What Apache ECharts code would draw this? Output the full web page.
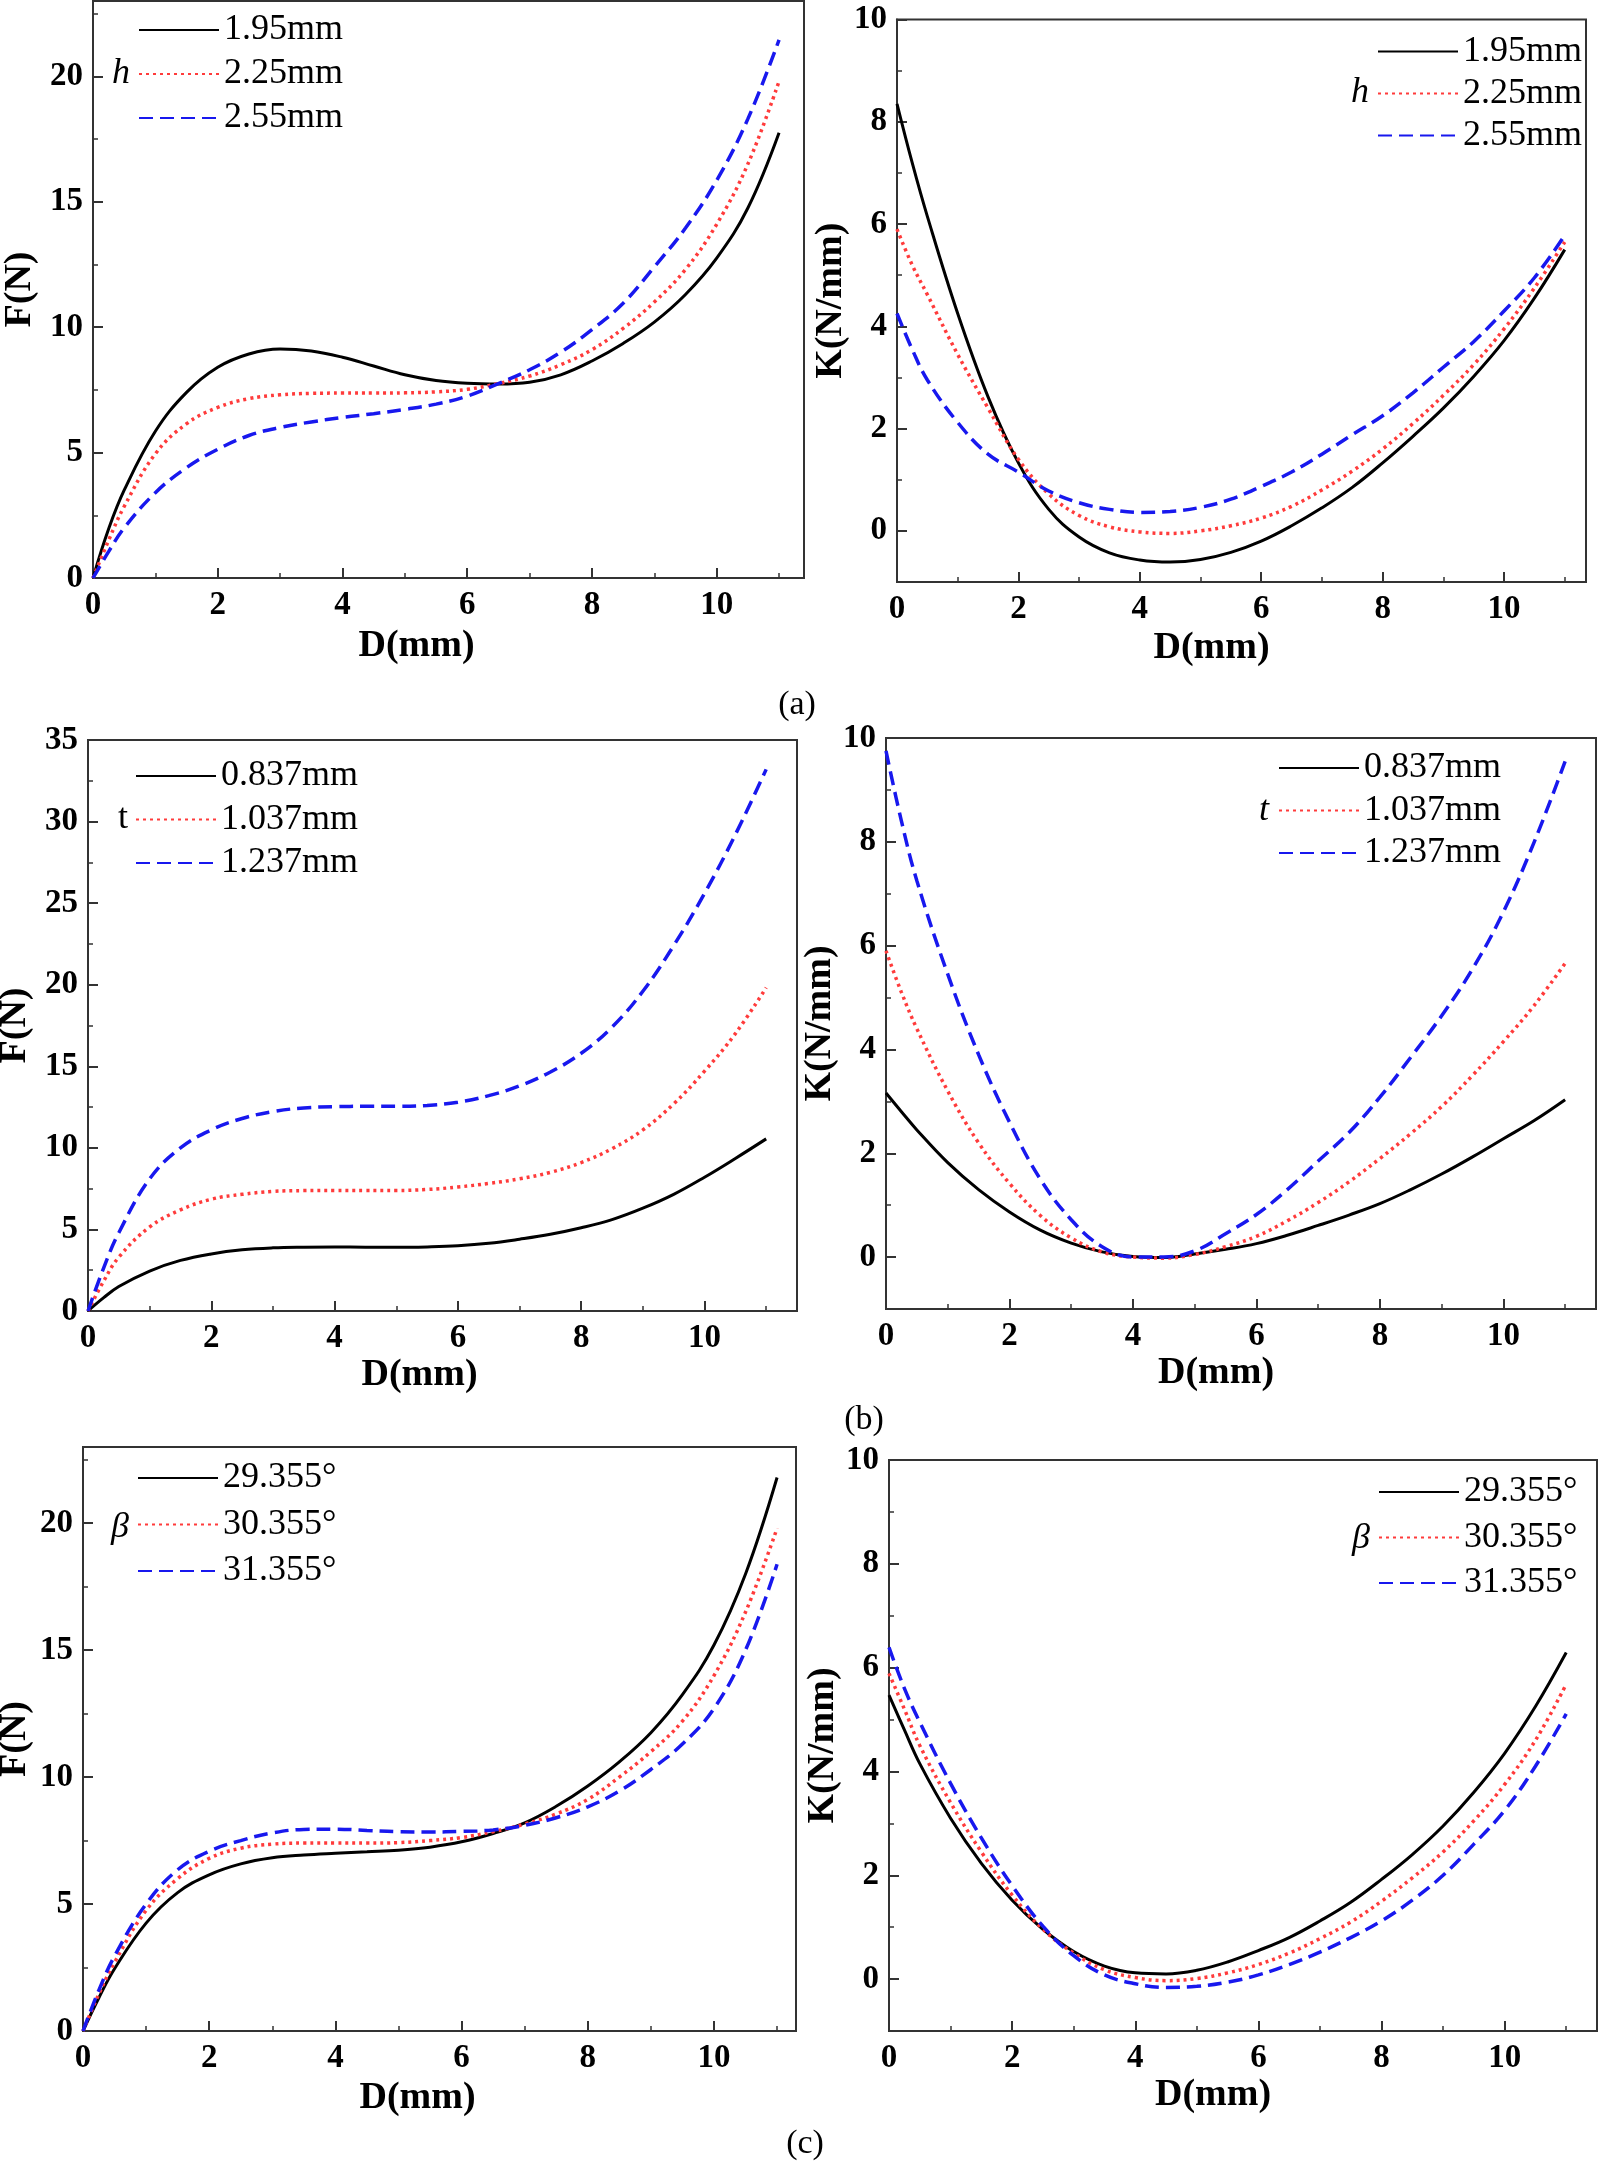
<!DOCTYPE html>
<html>
<head>
<meta charset="utf-8">
<script src="https://cdn.jsdelivr.net/npm/echarts@6/dist/echarts.min.js"></script>
<style>
html,body{margin:0;padding:0;background:#fff;}
#chart{width:1600px;height:2163px;}
</style>
</head>
<body>
<div id="chart"></div>
<script>
// ---------- DATA ----------
const D_MM = [0, 0.25, 0.5, 1, 1.5, 2, 2.5, 3, 3.5, 4, 4.5, 5, 5.5, 6, 6.5, 7, 7.5, 8, 8.5, 9, 9.5, 10, 10.5, 11];

const H_NAMES = ['1.95mm', '2.25mm', '2.55mm'];
const T_NAMES = ['0.837mm', '1.037mm', '1.237mm'];
const B_NAMES = ['29.355°', '30.355°', '31.355°'];

// (a) force, parameter h
const F_h195 = [0, 1.95, 3.5, 5.85, 7.4, 8.4, 8.93, 9.13, 9.05, 8.8, 8.45, 8.1, 7.87, 7.76, 7.73, 7.8, 8.1, 8.65, 9.35, 10.2, 11.3, 12.75, 14.75, 17.75];
const F_h225 = [0, 1.5, 2.85, 4.95, 6.15, 6.8, 7.15, 7.3, 7.36, 7.37, 7.37, 7.38, 7.42, 7.52, 7.75, 8.05, 8.5, 9.1, 9.95, 11.0, 12.3, 14.1, 16.5, 19.8];
const F_h255 = [0, 1.05, 2.0, 3.4, 4.4, 5.13, 5.68, 6.0, 6.22, 6.4, 6.55, 6.72, 6.93, 7.25, 7.75, 8.3, 9.0, 9.9, 10.95, 12.4, 13.95, 15.85, 18.3, 21.45];
// (a) stiffness, parameter h
const K_h195 = [8.35, 7.2, 6.15, 4.25, 2.62, 1.33, 0.42, -0.12, -0.43, -0.57, -0.61, -0.56, -0.42, -0.2, 0.1, 0.45, 0.85, 1.33, 1.85, 2.4, 3.02, 3.72, 4.55, 5.5];
const K_h225 = [5.9, 5.2, 4.62, 3.45, 2.4, 1.4, 0.72, 0.3, 0.08, -0.02, -0.05, 0.0, 0.1, 0.25, 0.48, 0.8, 1.17, 1.6, 2.1, 2.65, 3.25, 3.95, 4.75, 5.65];
const K_h255 = [4.25, 3.55, 2.95, 2.12, 1.5, 1.15, 0.78, 0.55, 0.42, 0.36, 0.38, 0.46, 0.62, 0.87, 1.15, 1.5, 1.88, 2.25, 2.7, 3.2, 3.7, 4.3, 4.95, 5.78];
// (b) force, parameter t
const F_t0837 = [0, 0.8, 1.5, 2.45, 3.1, 3.5, 3.75, 3.87, 3.91, 3.92, 3.91, 3.9, 3.93, 4.0, 4.15, 4.4, 4.7, 5.1, 5.6, 6.3, 7.15, 8.2, 9.35, 10.55];
const F_t1037 = [0, 1.8, 3.3, 5.15, 6.2, 6.85, 7.15, 7.33, 7.38, 7.39, 7.39, 7.39, 7.45, 7.6, 7.82, 8.1, 8.5, 9.1, 9.95, 11.1, 12.7, 14.7, 17.0, 19.82];
const F_t1237 = [0, 2.6, 4.8, 8.1, 10.0, 11.1, 11.8, 12.22, 12.45, 12.52, 12.55, 12.55, 12.6, 12.8, 13.2, 13.8, 14.65, 15.8, 17.4, 19.6, 22.4, 25.6, 29.2, 33.2];
// (b) stiffness, parameter t
const K_t0837 = [3.16, 2.8, 2.45, 1.82, 1.3, 0.87, 0.52, 0.27, 0.1, 0.01, -0.01, 0.06, 0.15, 0.26, 0.42, 0.61, 0.81, 1.03, 1.3, 1.6, 1.93, 2.28, 2.63, 3.03];
const K_t1037 = [5.9, 5.1, 4.4, 3.2, 2.2, 1.42, 0.8, 0.37, 0.1, 0.0, -0.02, 0.05, 0.2, 0.4, 0.7, 1.05, 1.45, 1.9, 2.38, 2.9, 3.5, 4.15, 4.85, 5.66];
const K_t1237 = [9.75, 8.4, 7.25, 5.45, 3.9, 2.6, 1.5, 0.72, 0.2, 0.0, 0.0, 0.12, 0.45, 0.82, 1.3, 1.85, 2.4, 3.08, 3.85, 4.65, 5.55, 6.65, 8.0, 9.55];
// (c) force, parameter beta
const F_b29 = [0, 1.3, 2.45, 4.25, 5.45, 6.15, 6.58, 6.82, 6.93, 7.0, 7.06, 7.12, 7.24, 7.45, 7.78, 8.2, 8.85, 9.65, 10.6, 11.75, 13.25, 15.2, 18.0, 21.8];
const F_b30 = [0, 1.45, 2.7, 4.75, 6.0, 6.8, 7.2, 7.36, 7.4, 7.4, 7.4, 7.42, 7.5, 7.62, 7.85, 8.15, 8.55, 9.12, 10.0, 11.0, 12.2, 14.0, 16.5, 19.8];
const F_b31 = [0, 1.6, 2.95, 5.0, 6.35, 7.08, 7.5, 7.8, 7.94, 7.95, 7.9, 7.85, 7.84, 7.86, 7.92, 8.1, 8.4, 8.83, 9.45, 10.3, 11.3, 12.7, 15.0, 18.38];
// (c) stiffness, parameter beta
const K_b29 = [5.47, 4.8, 4.15, 3.1, 2.23, 1.52, 0.96, 0.53, 0.25, 0.12, 0.1, 0.17, 0.33, 0.55, 0.8, 1.12, 1.48, 1.92, 2.4, 2.95, 3.6, 4.35, 5.25, 6.29];
const K_b30 = [5.89, 5.2, 4.5, 3.4, 2.45, 1.62, 0.96, 0.5, 0.18, 0.03, -0.03, 0.01, 0.12, 0.28, 0.5, 0.78, 1.1, 1.5, 1.95, 2.45, 3.05, 3.75, 4.6, 5.68];
const K_b31 = [6.39, 5.6, 4.95, 3.77, 2.72, 1.8, 1.02, 0.45, 0.08, -0.09, -0.16, -0.14, -0.06, 0.08, 0.28, 0.52, 0.8, 1.12, 1.52, 2.0, 2.6, 3.25, 4.1, 5.11];

// ---------- LAYOUT / STYLE ----------
const SERIF = '"Liberation Serif", "Times New Roman", serif';
const AXIS_COLOR = '#333';
const LINE_STYLES = [
  { color: '#000000', type: 'solid', width: 3 },
  { color: '#ff3b3b', type: [3, 4], width: 3.5 },
  { color: '#1818ee', type: [14, 7], width: 3.5 }
];
const TICK_FONT = 33, NAME_FONT = 38, LEGEND_FONT = 36;

const PANELS = [
  { grid: { left: 93, top: 1, width: 711, height: 577 }, xMax: 11.4, y: { min: 0, max: 23, interval: 5 },
    yName: 'F(N)', yNameGap: 54, xNameGap: 49, xShift: 32, names: H_NAMES, data: [F_h195, F_h225, F_h255],
    legend: { left: 138, top: 12, gap: 8 }, sym: { t: 'h', x: 121, y: 74, it: true } },
  { grid: { left: 897, top: 19.5, width: 689, height: 562.5 }, xMax: 11.35, y: { min: -1, max: 10 },
    yName: 'K(N/mm)', yNameGap: 36, xNameGap: 47, xShift: 30, names: H_NAMES, data: [K_h195, K_h225, K_h255],
    legend: { left: 1377, top: 33.5, gap: 6 }, sym: { t: 'h', x: 1360, y: 93, it: true } },
  { grid: { left: 88, top: 740, width: 709, height: 571 }, xMax: 11.5, y: { min: 0, max: 35, interval: 5 },
    yName: 'F(N)', yNameGap: 54, xNameGap: 40, xShift: 23, names: T_NAMES, data: [F_t0837, F_t1037, F_t1237],
    legend: { left: 135, top: 758, gap: 7.5 }, sym: { t: 't', x: 123, y: 819, it: false } },
  { grid: { left: 886, top: 738, width: 710, height: 571 }, xMax: 11.5, y: { min: -1, max: 10 },
    yName: 'K(N/mm)', yNameGap: 39, xNameGap: 42, xShift: 25, names: T_NAMES, data: [K_t0837, K_t1037, K_t1237],
    legend: { left: 1278, top: 750, gap: 6.5 }, sym: { t: 't', x: 1264, y: 811, it: true } },
  { grid: { left: 83, top: 1447, width: 713, height: 584 }, xMax: 11.3, y: { min: 0, max: 23, interval: 5 },
    yName: 'F(N)', yNameGap: 49, xNameGap: 48, xShift: 22, names: B_NAMES, data: [F_b29, F_b30, F_b31],
    legend: { left: 137, top: 1460, gap: 10.5 }, sym: { t: 'β', x: 120, y: 1528, it: true } },
  { grid: { left: 889, top: 1460, width: 708, height: 571 }, xMax: 11.5, y: { min: -1, max: 10 },
    yName: 'K(N/mm)', yNameGap: 34, xNameGap: 43, xShift: 30, names: B_NAMES, data: [K_b29, K_b30, K_b31],
    legend: { left: 1378, top: 1474, gap: 9.5 }, sym: { t: 'β', x: 1361, y: 1539, it: true } }
];

const CAPTIONS = [
  { t: '(a)', x: 797, y: 705 },
  { t: '(b)', x: 864, y: 1420 },
  { t: '(c)', x: 805, y: 2144 }
];

function multipleOf(step) {
  return function (v) {
    const r = v / step;
    return Math.abs(r - Math.round(r)) < 1e-6 ? String(v) : '';
  };
}

const grids = [], xAxes = [], yAxes = [], series = [], legends = [], graphics = [];

PANELS.forEach(function (p, i) {
  grids.push(Object.assign({ show: true, borderColor: AXIS_COLOR, borderWidth: 2, backgroundColor: 'transparent',
    containLabel: false, outerBoundsMode: 'none' }, p.grid));

  const common = {
    gridIndex: i,
    type: 'value',
    axisLine: { show: true, onZero: false, lineStyle: { color: AXIS_COLOR, width: 2 } },
    axisTick: { show: true, inside: true, length: 10, lineStyle: { color: AXIS_COLOR, width: 2 } },
    minorTick: { show: true, splitNumber: 2, length: 5, lineStyle: { color: AXIS_COLOR, width: 1.5 } },
    splitLine: { show: false },
    minorSplitLine: { show: false },
    nameLocation: 'middle'
  };

  xAxes.push(Object.assign({}, common, {
    min: 0, max: p.xMax, interval: 2,
    axisLabel: { margin: 11, color: '#000', fontFamily: SERIF, fontWeight: 'bold', fontSize: TICK_FONT, formatter: multipleOf(2) },
    name: 'D(mm)', nameGap: p.xNameGap,
    nameTextStyle: { color: '#000', fontFamily: SERIF, fontWeight: 'bold', fontSize: NAME_FONT, padding: [0, 2 * p.xShift, 0, 0] }
  }));

  const yOpt = Object.assign({}, common, {
    min: p.y.min, max: p.y.max,
    axisLabel: { margin: 10, color: '#000', fontFamily: SERIF, fontWeight: 'bold', fontSize: TICK_FONT,
      formatter: multipleOf(p.y.interval || 2) },
    name: p.yName, nameGap: p.yNameGap,
    nameTextStyle: { color: '#000', fontFamily: SERIF, fontWeight: 'bold', fontSize: NAME_FONT }
  });
  if (p.y.interval) { yOpt.interval = p.y.interval; } else { yOpt.splitNumber = 5; }
  yAxes.push(yOpt);

  p.data.forEach(function (vals, k) {
    series.push({
      type: 'line',
      name: p.names[k],
      xAxisIndex: i, yAxisIndex: i,
      data: D_MM.map(function (d, j) { return [d, vals[j]]; }),
      showSymbol: false, symbol: 'none',
      smooth: 0.4,
      lineStyle: LINE_STYLES[k],
      itemStyle: { color: LINE_STYLES[k].color },
      emphasis: { disabled: true },
      silent: true,
      z: 2 + k
    });
  });

  legends.push({
    orient: 'vertical', left: p.legend.left, top: p.legend.top, padding: 0,
    itemGap: p.legend.gap, itemWidth: 80, itemHeight: LEGEND_FONT,
    data: p.names, selectedMode: false,
    itemStyle: { opacity: 0 },
    textStyle: { color: '#000', fontFamily: SERIF, fontSize: LEGEND_FONT, lineHeight: LEGEND_FONT }
  });

  graphics.push({
    type: 'text', x: p.sym.x, y: p.sym.y, silent: true,
    style: { text: p.sym.t, fill: '#000', font: (p.sym.it ? 'italic ' : '') + '36px ' + SERIF,
      align: 'center', verticalAlign: 'middle', textAlign: 'center', textVerticalAlign: 'middle' }
  });
});

CAPTIONS.forEach(function (c) {
  graphics.push({
    type: 'text', x: c.x, y: c.y, silent: true,
    style: { text: c.t, fill: '#000', font: '34px ' + SERIF,
      align: 'center', verticalAlign: 'middle', textAlign: 'center', textVerticalAlign: 'middle' }
  });
});

const chart = echarts.init(document.getElementById('chart'), null, { renderer: 'canvas', width: 1600, height: 2163 });
chart.setOption({
  backgroundColor: '#ffffff',
  animation: false,
  grid: grids,
  xAxis: xAxes,
  yAxis: yAxes,
  legend: legends,
  series: series,
  graphic: graphics
});
</script>
</body>
</html>
